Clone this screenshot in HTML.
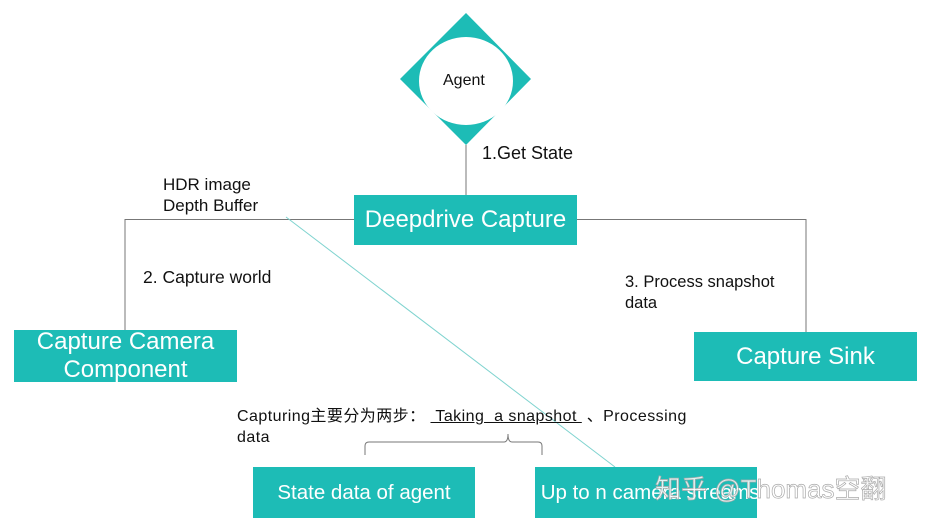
<!DOCTYPE html>
<html><head><meta charset="utf-8"><style>
body{margin:0;width:928px;height:529px;background:#fff;overflow:hidden;position:relative;font-family:"Liberation Sans","Noto Sans CJK SC",sans-serif}
.b{position:absolute;background:#1dbcb6;color:#fff;display:flex;align-items:center;justify-content:center;text-align:center;white-space:nowrap}
.t{position:absolute;color:#111;font-size:16px;line-height:21px;white-space:nowrap}
</style></head><body>
<svg width="928" height="529" style="position:absolute;left:0;top:0">
<polygon points="466,13 531,79 466,145 400,79" fill="#1dbcb6"/>
<ellipse cx="466" cy="81" rx="47" ry="44" fill="#fff"/>
<g stroke="#777" stroke-width="1" fill="none">
<line x1="466" y1="145" x2="466" y2="195"/>
<polyline points="125,330 125,219.5 354,219.5"/>
<polyline points="577,219.5 806,219.5 806,332"/>
<path d="M365,455 L365,446 Q365,442 369,442 L504,442 Q508,442 508,434 Q508,442 512,442 L538,442 Q542,442 542,446 L542,455"/>
</g>
<line x1="286" y1="217" x2="615" y2="467" stroke="#7fd3cf" stroke-width="1"/>
</svg>
<div class="t" style="left:443px;top:70px;font-size:16px">Agent</div>
<div class="t" style="left:482px;top:143px;font-size:18px">1.Get State</div>
<div class="t" style="left:163px;top:174px;font-size:17px">HDR image<br>Depth Buffer</div>
<div class="b" style="left:354px;top:195px;width:223px;height:50px;font-size:24px">Deepdrive Capture</div>
<div class="t" style="left:143px;top:267px;font-size:17.5px">2. Capture world</div>
<div class="t" style="left:625px;top:272px;font-size:16.5px">3. Process snapshot<br>data</div>
<div class="b" style="left:14px;top:330px;width:223px;height:52px;font-size:24px;line-height:28px">Capture Camera<br>Component</div>
<div class="b" style="left:694px;top:332px;width:223px;height:49px;font-size:24px">Capture Sink</div>
<div class="t" style="left:237px;top:406px;font-size:16px;letter-spacing:0.45px">Capturing主要分为两步： <u>&nbsp;Taking &nbsp;a snapshot&nbsp;</u> 、Processing<br>data</div>
<div class="b" style="left:253px;top:467px;width:222px;height:51px;font-size:20.5px">State data of agent</div>
<div class="b" style="left:535px;top:467px;width:222px;height:51px;font-size:20.5px;justify-content:flex-start;overflow:visible">&nbsp;Up to n camera streams</div>
<div class="t" style="left:655px;top:473px;width:260px;font-size:26px;color:rgba(255,255,255,0.85);-webkit-text-stroke:0.7px #aaa;line-height:32px">知乎 @Thomas空翻</div>
</body></html>
